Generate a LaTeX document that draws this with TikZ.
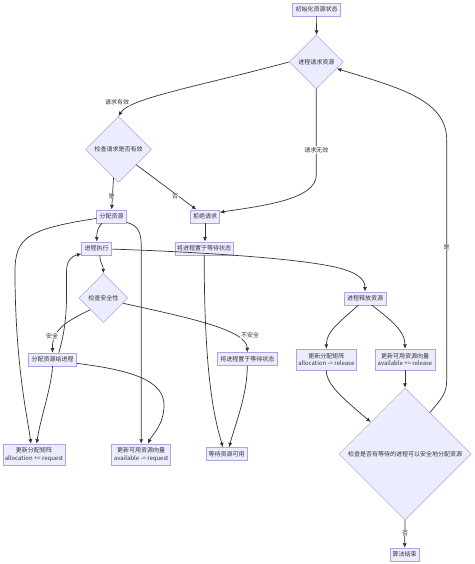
\documentclass[tikz,border=0pt]{standalone}
\usepackage{fontspec}
\setmainfont{Noto Sans CJK SC}
\usetikzlibrary{shapes.geometric,arrows.meta}
\definecolor{nfill}{HTML}{ECECFF}
\definecolor{nline}{HTML}{ADA3E6}
\definecolor{ink}{HTML}{333333}
\begin{document}
\begin{tikzpicture}[x=1pt,y=-1pt,
  every node/.style={font=\fontsize{6}{7.6}\selectfont, text=ink},
  box/.style={draw=nline, fill=nfill, line width=0.5pt, inner sep=0pt, minimum height=13pt, align=center},
  dia/.style={diamond, draw=nline, fill=nfill, line width=0.5pt, inner sep=0pt, aspect=1},
  flow/.style={draw=ink, line width=0.7pt, -{Latex[length=4.5pt,width=4pt]}},
  elab/.style={fill=white, fill opacity=0.75, text opacity=1, inner sep=0.8pt}
]
\useasboundingbox (0,0) rectangle (474,564);
\fill[white] (0,0) rectangle (474,564);

% nodes
\node[box, minimum width=48pt] (init) at (316.7,9.7) {初始化资源状态};
\node[dia, minimum width=54pt, minimum height=54pt] (d1) at (316.3,62) {进程请求资源};
\node[dia, minimum width=66pt, minimum height=66pt] (d2) at (118.5,149.3) {检查请求是否有效};
\node[box, minimum width=30pt] (alloc) at (111.7,216.3) {分配资源};
\node[box, minimum width=29pt] (reject) at (205,216.3) {拒绝请求};
\node[box, minimum width=30pt] (exec) at (96.7,248.3) {进程执行};
\node[box, minimum width=58.5pt] (wait1) at (204.2,248.3) {将进程置于等待状态};
\node[dia, minimum width=49pt, minimum height=49pt] (d3) at (103.3,298) {检查安全性};
\node[box, minimum width=48.4pt] (give) at (52.5,359.5) {分配资源给进程};
\node[box, minimum width=60pt] (wait2) at (247.3,359) {将进程置于等待状态};
\node[box, minimum width=41.5pt] (rel) at (365,298.3) {进程释放资源};
\node[box, minimum width=60.5pt, minimum height=21pt] (updA) at (326.3,359.5) {更新分配矩阵\\allocation -= release};
\node[box, minimum width=60pt, minimum height=21pt] (updV) at (405,359.5) {更新可用资源向量\\available += release};
\node[dia, minimum width=132pt, minimum height=132pt] (d4) at (405,454) {检查是否有等待的进程可以安全地分配资源};
\node[box, minimum width=29pt] (end) at (404.7,554.5) {算法结束};
\node[box, minimum width=62.5pt, minimum height=21pt] (areq) at (34,454.5) {更新分配矩阵\\allocation += request};
\node[box, minimum width=59pt, minimum height=21pt] (vreq) at (141.2,454.5) {更新可用资源向量\\available -= request};
\node[box, minimum width=41pt] (wav) at (226.5,454) {等待资源可用};

% connectors
\draw[flow] (init) -- (d1);
\draw[flow] (d1.west) .. controls (200,86) and (130,98) .. (d2.north);
\draw[flow] (d1.south) -- (316.3,175) .. controls (316.3,200) and (260,206) .. (reject.15);
\draw[flow] (d2.260) -- (alloc.north);
\draw[flow] (d2.-41) -- (reject.142);
\draw[flow] (reject.south) -- (reject.south |- wait1.north);
\draw[flow] (alloc.215) .. controls (98,227) and (96.7,232) .. (exec.north);
\draw[flow] (alloc.188) .. controls (20,230) and (14,240) .. (15,280) .. controls (16,370) and (28,420) .. (areq.106);
\draw[flow] (alloc.-22) .. controls (136,225) and (141.2,230) .. (141.2,245) -- (vreq.north);
\draw[flow] (exec.-65) .. controls (100,264) and (103.3,265) .. (d3.north);
\draw[flow] (exec.-3) .. controls (200,252) and (290,258) .. (330,266) .. controls (355,271) and (365,278) .. (rel.north);
\draw[flow] (d3.222) .. controls (65,322) and (52,330) .. (give.north);
\draw[flow] (d3.-15) .. controls (190,318) and (247,330) .. (wait2.north);
\draw[flow] (give.47) .. controls (64,335) and (66,320) .. (66.5,300) -- (66.5,272) .. controls (66.5,260) and (72,256) .. (exec.200);
\draw[flow] (give.south) .. controls (52,385) and (40,420) .. (areq.76);
\draw[flow] (give.-9) .. controls (130,370) and (164,380) .. (164,405) .. controls (164,425) and (152,435) .. (vreq.58);
\draw[flow] (wait1.south) .. controls (204.2,380) and (215,420) .. (wav.118);
\draw[flow] (wait2.south) .. controls (247.3,395) and (235,425) .. (wav.69);
\draw[flow] (rel.225) .. controls (345,318) and (326.3,330) .. (updA.north);
\draw[flow] (rel.-45) .. controls (388,318) and (405,330) .. (updV.north);
\draw[flow] (updA.south) .. controls (326,385) and (345,400) .. (d4.137);
\draw[flow] (updV.south) -- (d4.north);
\draw[flow] (d4.59) .. controls (440,400) and (446.7,395) .. (446.7,380) -- (446.7,140) .. controls (446.7,100) and (400,88) .. (d1.-18);
\draw[flow] (d4.south) -- (end.north);

% edge labels
\node[elab] (l1) at (117,102.7) {请求有效};
\node[elab] (l2) at (316.3,150) {请求无效};
\node[elab] (l3) at (111.5,196) {是};
\node[elab] (l4) at (175,196.7) {否};
\node[elab] (l5) at (52,336) {安全};
\node[elab] (l6) at (250,335) {不安全};
\node[elab] (l7) at (446.7,247) {是};
\node[elab] (l8) at (405,533) {否};
\end{tikzpicture}
\end{document}
